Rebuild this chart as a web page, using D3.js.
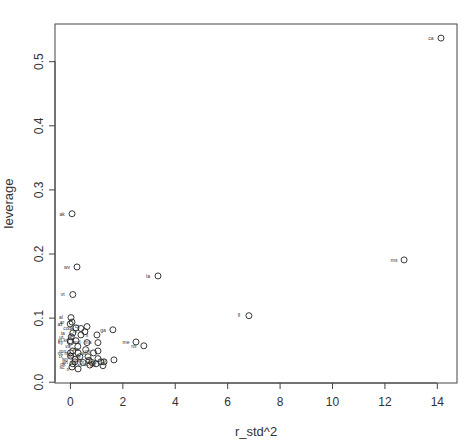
<!DOCTYPE html>
<html><head><meta charset="utf-8">
<script src="https://cdn.jsdelivr.net/npm/d3@7"></script>
<style>body{margin:0;background:#fff}text{font-family:"Liberation Sans",Arial,sans-serif}</style>
</head><body><svg id="c" width="474" height="444"></svg>
<script>
const states=["ca","ms","fl","la","ak","wv","vt","al","ar","az","co","ct","de","ga","hi","ia","id","il","in","ks","ky","ma","md","me","mi","mn","mo","mt","nc","nd","ne","nh","nj","nm","nv","ny","oh","ok","or","pa","ri","sc","sd","tn","tx","ut","va","wa","wi","wy","dc"];
const rstd2=[14.16,12.75,6.83,3.36,0.08,0.27,0.11,0.04,0.08,0.01,0.23,0.65,0.42,1.64,0.57,0.11,0.42,1.03,0.01,0.23,0.02,1.07,0.65,2.52,2.82,0.11,0.31,1.07,0.02,0.38,0.69,0.73,1.07,1.18,1.30,1.68,0.19,0.11,0.84,1.26,0.31,0.08,0.50,0.76,0.03,0.05,0.30,0.60,0.90,0.20,1.00];
const leverage=[0.536,0.190,0.103,0.165,0.262,0.179,0.136,0.100,0.093,0.090,0.084,0.086,0.083,0.081,0.078,0.076,0.073,0.073,0.064,0.064,0.062,0.061,0.061,0.062,0.056,0.048,0.045,0.048,0.045,0.039,0.039,0.033,0.036,0.031,0.031,0.034,0.031,0.028,0.030,0.025,0.020,0.023,0.030,0.026,0.040,0.070,0.055,0.050,0.045,0.035,0.028];
const xTicks=[0,2,4,6,8,10,12,14], yTicks=[0,0.1,0.2,0.3,0.4,0.5];
const svg=d3.select("#c");
const L=55,R=457,T=24,B=383;
const x=d3.scaleLinear().domain([-0.57,14.77]).range([L,R]);
const y=d3.scaleLinear().domain([-0.002,0.558]).range([B,T]);
svg.append("rect").attr("x",L).attr("y",T).attr("width",R-L).attr("height",B-T).attr("fill","none").attr("stroke","#444");
const xa=svg.append("g").attr("transform",`translate(0,${B})`).call(d3.axisBottom(x).tickValues(xTicks).tickFormat(d3.format("d")).tickSize(6).tickPadding(8));
const ya=svg.append("g").attr("transform",`translate(${L},0)`).call(d3.axisLeft(y).tickValues(yTicks).tickFormat(d3.format(".1f")).tickSize(6).tickPadding(6));
[xa,ya].forEach(a=>{a.select(".domain").remove();a.selectAll("line").attr("stroke","#444");a.selectAll("text").attr("font-size",12).attr("fill","#333");});
ya.selectAll(".tick text").attr("text-anchor","middle").attr("transform",function(){const t=d3.select(this.parentNode).attr("transform");return "translate(-16,0) rotate(-90)";}).attr("x",0).attr("dy","0.35em").attr("dx",0);
svg.append("line").attr("x1",x(0)).attr("x2",x(14)).attr("y1",B).attr("y2",B).attr("stroke","#444");
svg.append("line").attr("x1",L).attr("x2",L).attr("y1",y(0)).attr("y2",y(0.5)).attr("stroke","#444");
const pts=states.map((s,i)=>({s,x:rstd2[i],y:leverage[i]}));
svg.append("g").selectAll("circle").data(pts).join("circle").attr("cx",d=>x(d.x)).attr("cy",d=>y(d.y)).attr("r",3).attr("fill","none").attr("stroke","#222").attr("stroke-width",0.9);
svg.append("g").selectAll("text").data(pts).join("text").attr("x",d=>x(d.x)-10).attr("y",d=>y(d.y)).attr("dy","0.35em").attr("text-anchor","middle").attr("font-size",5).attr("fill","#333").text(d=>d.s);
svg.append("text").attr("x",(L+R)/2).attr("y",436).attr("text-anchor","middle").attr("font-size",13).attr("fill","#333").text("r_std^2");
svg.append("text").attr("transform",`translate(13,${(T+B)/2}) rotate(-90)`).attr("text-anchor","middle").attr("font-size",13).attr("fill","#333").text("leverage");
</script></body></html>
